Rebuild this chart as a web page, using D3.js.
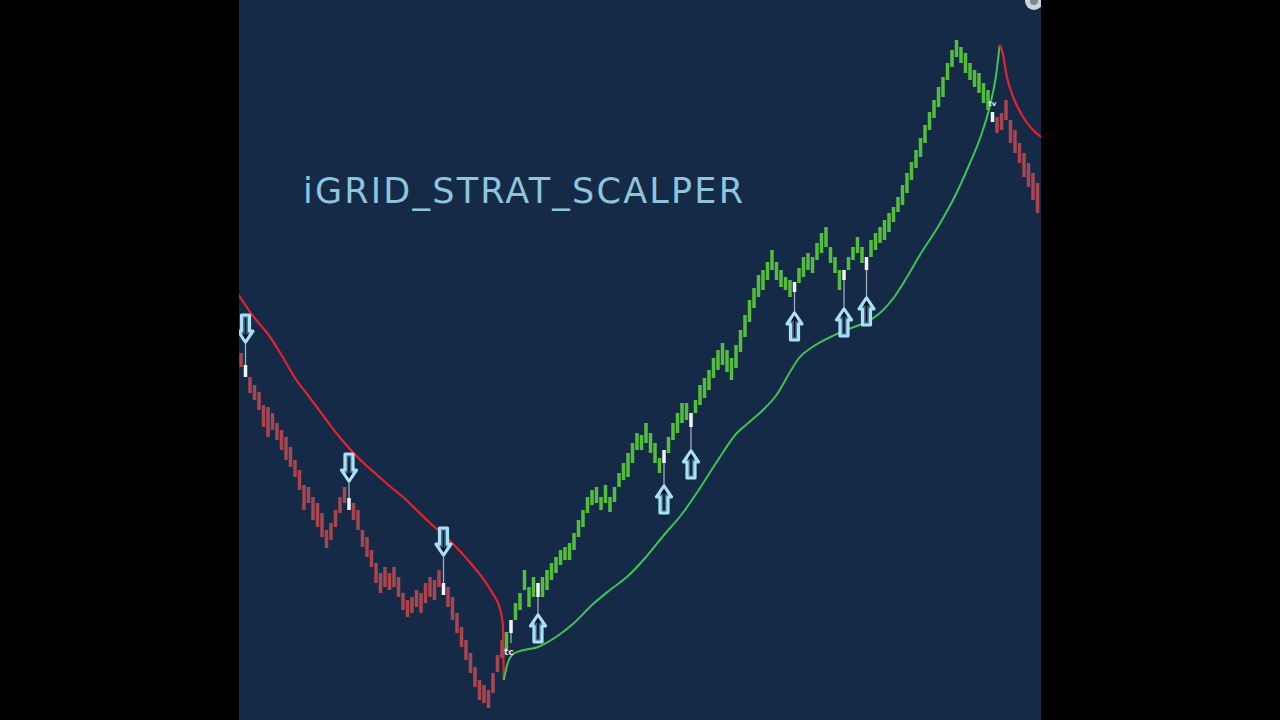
<!DOCTYPE html>
<html><head><meta charset="utf-8">
<script src="https://cdn.jsdelivr.net/npm/d3@7"></script>
<style>html,body{margin:0;padding:0;background:#000;overflow:hidden}</style>
</head><body>
<svg id="c" width="1280" height="720"></svg>
<script>
// ---------------- DATA ----------------
const title = "iGRID_STRAT_SCALPER";

const opens = [367,355,343,335,328,315,313,290,297,290,283,273,260,250,235,217,223,217,207,190,
180,193,207,217,222,217,210,190,183,170,157,147,133,147,133,143,127,120,107,113,
127,117,123,140,133,137,133,123,107,93,80,67,53,40,35,30,27,48,62,70,
87,100,110,130,133,123,123,123,130,140,147,155,160,160,170,183,193,207,215,217,
223,217,223,218,233,240,243,257,270,285,277,287,277,262,257,267,280,287,297,300,
307,307,315,322,330,342,350,355,370,362,352,368,383,398,412,423,430,440,450,458,
450,443,440,428,437,443,450,463,460,467,473,473,463,450,440,450,460,467,473,450,
463,470,477,480,488,498,508,515,527,540,552,563,577,590,602,613,623,640,653,663,
673,667,657,650,647,637,630,608,603,590,600,600,590,577,567,557,547,537];
const closes = [353,343,327,320,310,293,283,307,280,270,260,253,243,230,210,233,200,193,183,172,
197,210,223,233,210,200,190,173,163,153,137,127,153,130,153,123,110,103,123,130,
107,137,143,120,150,125,113,100,87,73,60,47,33,20,17,12,47,65,80,88,
100,117,127,150,113,143,137,143,150,157,163,170,173,177,187,200,210,223,230,233,
210,235,208,233,247,257,267,277,287,270,297,267,257,247,270,283,297,307,317,317,
293,320,335,342,350,362,370,377,348,340,375,390,405,420,432,445,450,458,470,440,
433,430,423,438,452,463,467,447,477,487,493,457,447,430,450,463,473,483,457,463,
480,487,493,500,507,513,523,535,547,558,570,582,595,608,620,633,643,657,670,680,
657,647,640,633,627,617,610,598,587,607,620,577,567,557,543,533,520,507];

// trend state (colours the bricks)
const trendStart = [0, 59, 167];
const trendDir = ["down", "up", "down"];

// signals
const sellIdx = [1, 24, 45];
const sellTip = [377, 238, 164];
const buyIdx = [66, 94, 100, 123, 134, 139];
const buyTip = [106, 235, 270, 408, 412, 423];
const markIdx = [60, 167];
const markLabel = ["tc", "tv"];
const markWick = [77, 598];

// trailing stop lines
const red1Idx = [-0.5,3,6,9,12,15,18,21,24,27,30,33,36,39,42,45,48,51,54,56,57.5,58.2,58.4];
const red1Val = [425,402,386,365,342,324,306,288,272,258,246,234,223,210,197,185,172,157,140,126,112,95,40];
const greenIdx = [58.4,59.2,60.5,62,66,70,74,78,82,86,90,94,98,102,106,110,113,116,119,122,124,127,131,135,139,142,145,148,151,155,159,162,164.5,166.3,167.7,168.6];
const greenVal = [40,56,66,69,73,83,97,115,130,144,163,185,206,232,260,286,298,310,325,348,362,373,383,391,398,407,422,443,466,494,527,557,585,612,642,675];
const red2Idx = [168.6,169.2,170.2,171.6,173.8,176,177.8];
const red2Val = [675,668,643,623,603,590,583];

// ---------------- DRAW ----------------
const W = 1280, H = 720;
const panel = {x0: 239, x1: 1041};
const svg = d3.select("#c");
svg.append("rect").attr("width", W).attr("height", H).attr("fill", "#000");
svg.append("defs").append("clipPath").attr("id", "clip")
  .append("rect").attr("x", panel.x0).attr("y", 0).attr("width", panel.x1 - panel.x0).attr("height", H);
svg.append("rect").attr("x", panel.x0).attr("y", 0).attr("width", panel.x1 - panel.x0).attr("height", H).attr("fill", "#142a47");

const g = svg.append("g").attr("clip-path", "url(#clip)");

const x = d3.scaleLinear().domain([0, 177]).range([241, 1037.5]);
const y = d3.scaleLinear().domain([0, 720]).range([720, 0]);

function trendOf(i) {
  let d = trendDir[0];
  trendStart.forEach((s, k) => { if (i >= s) d = trendDir[k]; });
  return d;
}

const candles = opens.map((o, i) => ({i, o, c: closes[i], t: trendOf(i)}));
const signalSet = new Set([...sellIdx, ...buyIdx, ...markIdx]);

// title
g.append("text").attr("x", 303).attr("y", 203)
  .attr("font-family", "DejaVu Sans, Verdana, sans-serif").attr("font-size", 35)
  .attr("textLength", 440).attr("lengthAdjust", "spacing")
  .attr("fill", "#8ec4dc").text(title);

// lines
const line = d3.line().curve(d3.curveMonotoneX).x(d => x(d[0])).y(d => y(d[1]));
g.append("path").datum(red1Idx.map((v, k) => [v, red1Val[k]]))
  .attr("d", line).attr("fill", "none").attr("stroke", "#e5232c").attr("stroke-width", 2.2);
g.append("path").datum(greenIdx.map((v, k) => [v, greenVal[k]]))
  .attr("d", line).attr("fill", "none").attr("stroke", "#3fc452").attr("stroke-width", 2);
g.append("path").datum(red2Idx.map((v, k) => [v, red2Val[k]]))
  .attr("d", line).attr("fill", "none").attr("stroke", "#e5232c").attr("stroke-width", 2.2);

// bricks
const bw = 3.5;
g.selectAll("rect.brick").data(candles.filter(d => !signalSet.has(d.i))).enter().append("rect")
  .attr("class", "brick")
  .attr("x", d => x(d.i) - bw / 2)
  .attr("y", d => y(Math.max(d.o, d.c)))
  .attr("width", bw)
  .attr("height", d => Math.abs(y(d.o) - y(d.c)))
  .attr("fill", d => d.t === "down" ? "#a8454f" : "#55bd3e");

// signal wicks + white bricks
function drawSignal(i, tip) {
  const d = candles[i];
  const hi = Math.max(d.o, d.c), lo = Math.min(d.o, d.c);
  const end = tip > hi ? hi : lo;
  g.append("line").attr("x1", x(i)).attr("x2", x(i)).attr("y1", y(end)).attr("y2", y(tip))
    .attr("stroke", "#9fabb6").attr("stroke-width", 1.3);
  g.append("rect").attr("x", x(i) - bw / 2).attr("y", y(hi)).attr("width", bw)
    .attr("height", y(lo) - y(hi)).attr("fill", "#eef3f6");
}
sellIdx.forEach((i, k) => drawSignal(i, sellTip[k]));
buyIdx.forEach((i, k) => drawSignal(i, buyTip[k]));
markIdx.forEach((i, k) => drawSignal(i, markWick[k]));

// marker labels
g.append("text").attr("x", x(markIdx[0]) - 7).attr("y", 655)
  .attr("font-family", "DejaVu Sans, sans-serif").attr("font-size", 9).attr("font-weight", "bold")
  .attr("fill", "#dfe6ea").text(markLabel[0]);
g.append("text").attr("x", x(markIdx[1]) - 4).attr("y", 106)
  .attr("font-family", "DejaVu Sans, sans-serif").attr("font-size", 7).attr("font-weight", "bold")
  .attr("fill", "#dfe6ea").text(markLabel[1]);

// arrows
function arrow(cx, tipY, dir) {
  const e = dir === "down" ? -1 : 1;
  const L = 27, hh = 11, sw = 4, hw = 7.5;
  const pts = [[-sw, L], [sw, L], [sw, hh], [hw, hh], [0, 0], [-hw, hh], [-sw, hh]];
  g.append("path")
    .attr("d", "M" + pts.map(p => [cx + p[0], tipY + e * p[1]].join(",")).join("L") + "Z")
    .attr("fill", "#3b6a8c").attr("stroke", "#acdff3").attr("stroke-width", 3.2)
    .attr("stroke-linejoin", "round");
  g.append("line").attr("x1", cx).attr("x2", cx).attr("y1", tipY + e * 24).attr("y2", tipY + e * 4)
    .attr("stroke", "#07101a").attr("stroke-width", 1.5);
  g.append("path")
    .attr("d", `M${cx - 2.5},${tipY + e * 8}L${cx},${tipY + e * 4}L${cx + 2.5},${tipY + e * 8}`)
    .attr("fill", "none").attr("stroke", "#07101a").attr("stroke-width", 1.5);
}
sellIdx.forEach((i, k) => arrow(x(i), y(sellTip[k]) - 1, "down"));
buyIdx.forEach((i, k) => arrow(x(i), y(buyTip[k]) + 1, "up"));

// corner icon
g.append("circle").attr("cx", 1034).attr("cy", 1).attr("r", 9).attr("fill", "#cfd4d8");
g.append("circle").attr("cx", 1034).attr("cy", 1).attr("r", 4).attr("fill", "#7d8791");
</script>
</body></html>
